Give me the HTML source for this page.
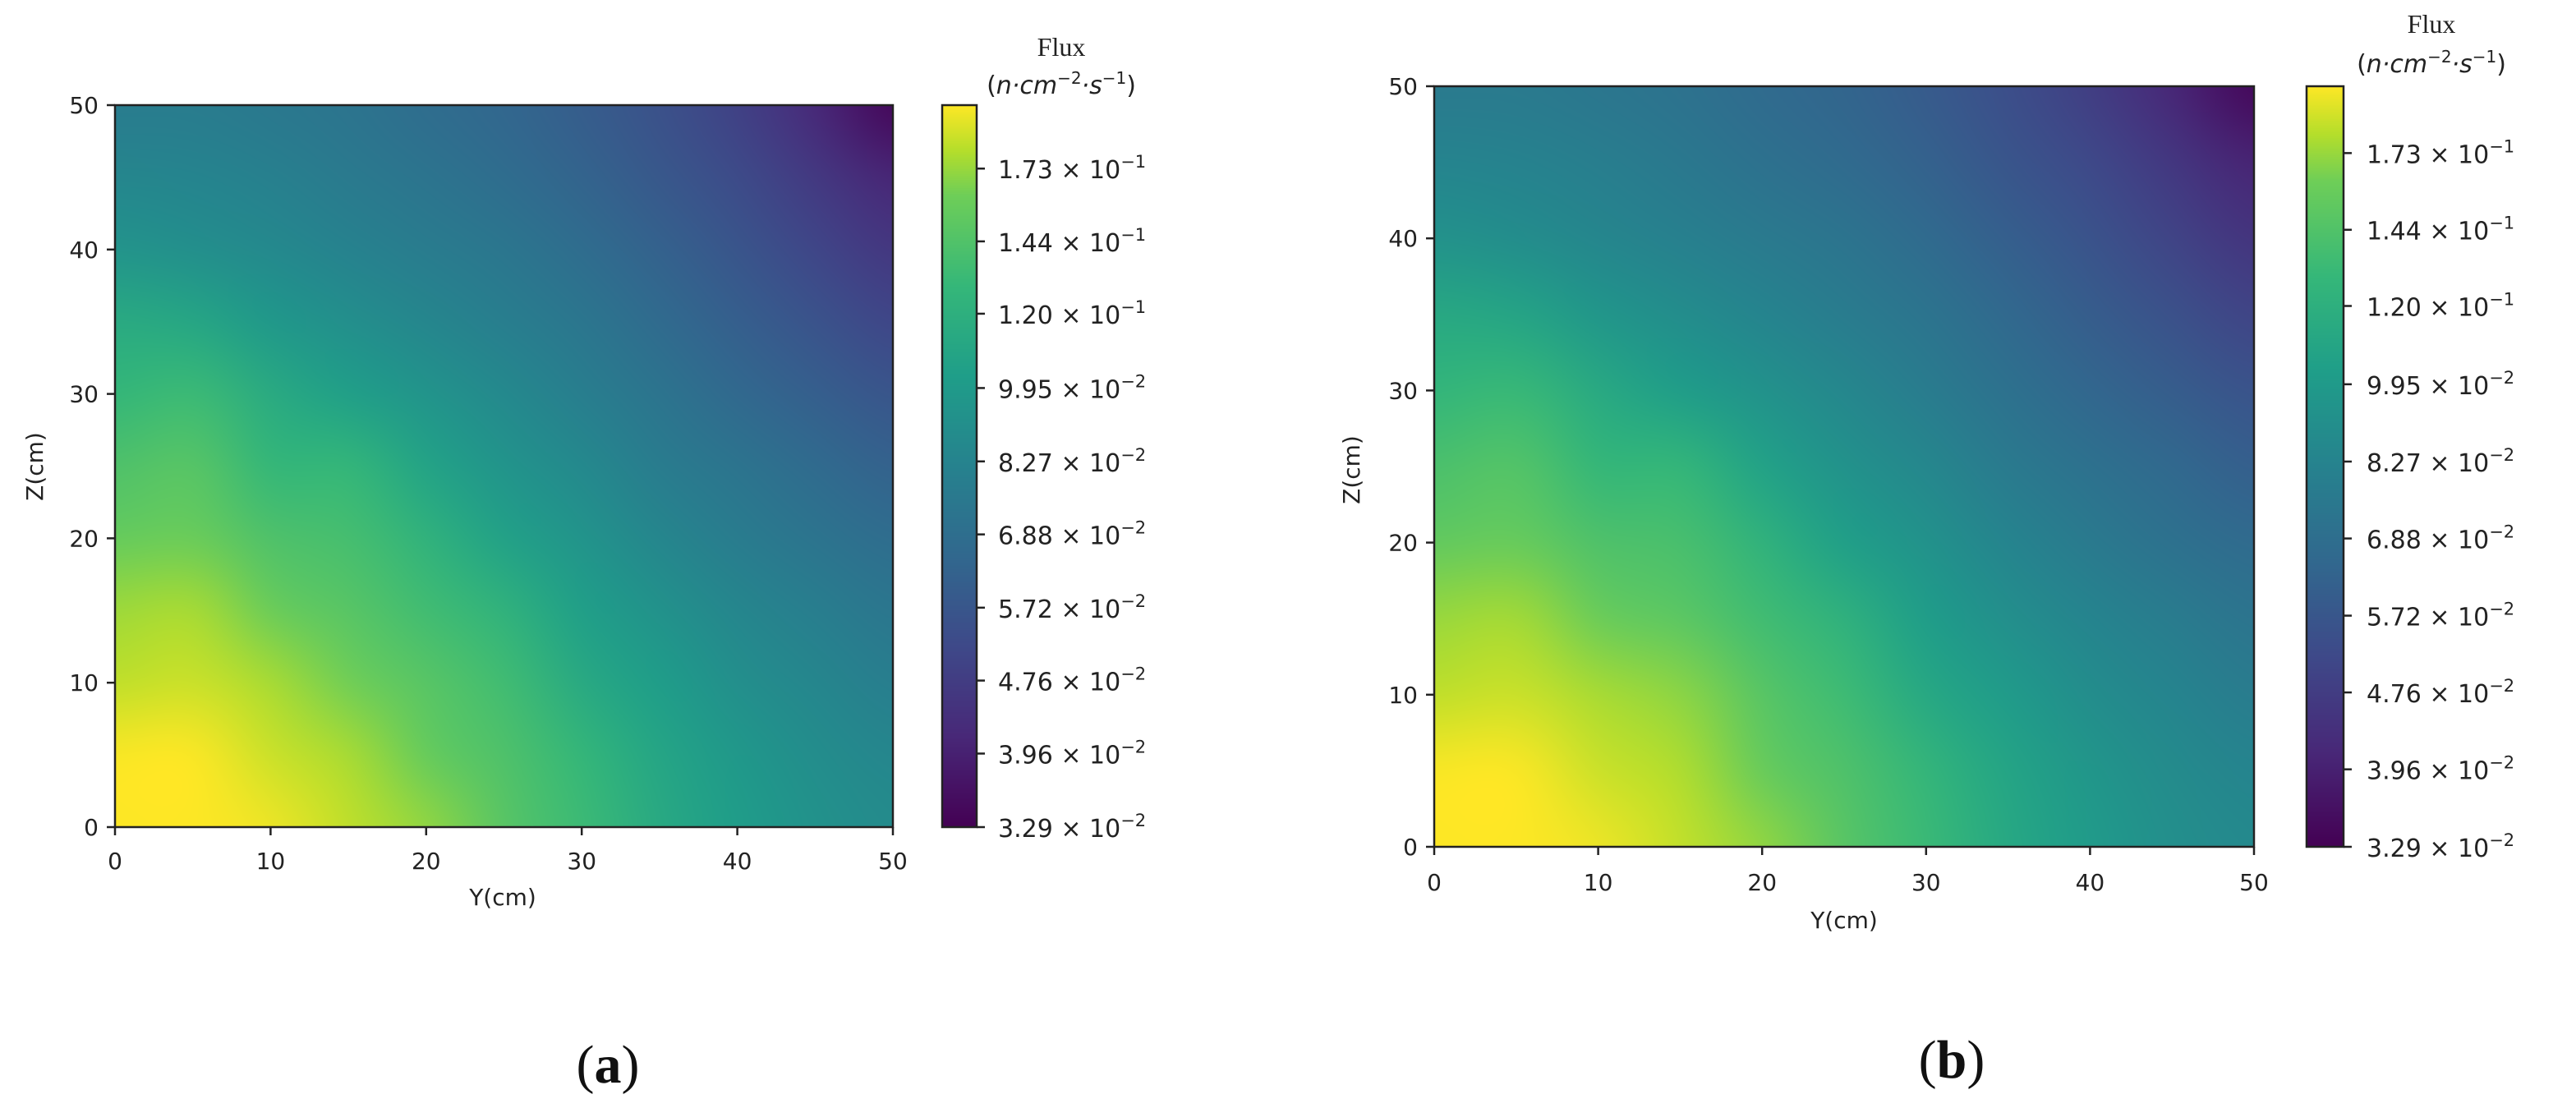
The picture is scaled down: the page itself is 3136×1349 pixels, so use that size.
<!DOCTYPE html>
<html><head><meta charset="utf-8"><style>
html,body{margin:0;padding:0;background:#fff;}
#root{position:relative;width:3136px;height:1349px;overflow:hidden;background:#fff;}
canvas{position:absolute;}
svg{position:absolute;left:0;top:0;}
</style></head><body>
<div id="root">
<canvas id="hmA"></canvas>
<canvas id="cbA"></canvas>
<canvas id="hmB"></canvas>
<canvas id="cbB"></canvas>
<svg id="ov" width="3136" height="1349"></svg>
</div>
<script>
const yTicks=[0,10,20,30,40,50];
const zTicks=[0,10,20,30,40,50];
const cbTicks=[0.173,0.144,0.120,0.0995,0.0827,0.0688,0.0572,0.0476,0.0396,0.0329];
const cbMant=["1.73","1.44","1.20","9.95","8.27","6.88","5.72","4.76","3.96","3.29"];
const cbExp=["−1","−1","−1","−2","−2","−2","−2","−2","−2","−2"];
const vMin=0.0329, vMax=0.203;
const gridY=[0,5,10,15,20,25,30,35,40,45,50];
const gridZ=[50,45,40,35,30,25,20,15,10,5,0];
// rows: Z=50 .. Z=0, cols: Y=0..50
const fluxA=[
[.0774,.0774,.0746,.0720,.0681,.0645,.0600,.0548,.0491,.0417,.0341],
[.0847,.0832,.0802,.0760,.0720,.0681,.0634,.0578,.0528,.0465,.0409],
[.0945,.0911,.0863,.0817,.0774,.0733,.0681,.0622,.0568,.0509,.0457],
[.1148,.1107,.0979,.0911,.0847,.0788,.0733,.0669,.0611,.0558,.0509],
[.1280,.1327,.1148,.1036,.0945,.0863,.0788,.0720,.0657,.0611,.0568],
[.1428,.1480,.1280,.1280,.1073,.0945,.0863,.0774,.0720,.0669,.0622],
[.1563,.1592,.1428,.1377,.1235,.1054,.0945,.0847,.0774,.0720,.0681],
[.1745,.1777,.1592,.1480,.1352,.1235,.1036,.0928,.0847,.0788,.0733],
[.1843,.1877,.1777,.1621,.1480,.1352,.1133,.1016,.0911,.0847,.0788],
[.2020,.2057,.1877,.1777,.1563,.1428,.1280,.1093,.0979,.0895,.0847],
[.2130,.2170,.1983,.1843,.1713,.1480,.1327,.1133,.1016,.0928,.0878]];
const fluxB=[
[.0760,.0760,.0733,.0710,.0670,.0635,.0590,.0538,.0480,.0410,.0341],
[.0832,.0817,.0788,.0746,.0707,.0670,.0622,.0568,.0518,.0458,.0403],
[.0928,.0895,.0847,.0802,.0760,.0720,.0669,.0611,.0558,.0500,.0450],
[.1127,.1088,.0962,.0895,.0832,.0774,.0720,.0657,.0600,.0548,.0500],
[.1260,.1302,.1134,.1020,.0930,.0850,.0774,.0707,.0645,.0600,.0558],
[.1407,.1460,.1280,.1280,.1060,.0930,.0850,.0760,.0707,.0657,.0611],
[.1544,.1575,.1428,.1397,.1235,.1040,.0930,.0832,.0760,.0707,.0670],
[.1733,.1766,.1592,.1502,.1352,.1218,.1020,.0911,.0832,.0774,.0720],
[.1843,.1877,.1777,.1700,.1480,.1334,.1120,.1000,.0895,.0832,.0774],
[.2020,.2057,.1877,.1799,.1575,.1428,.1270,.1080,.0962,.0878,.0832],
[.2130,.2170,.1983,.1853,.1713,.1480,.1313,.1120,.1000,.0911,.0863]];

const vir=[[0,[68,1,84]],[.125,[72,40,120]],[.25,[62,73,137]],[.375,[49,104,142]],[.5,[38,130,142]],[.625,[31,158,137]],[.75,[53,183,121]],[.875,[110,206,88]],[.9375,[181,222,43]],[1,[253,231,37]]];
function cmap(t){t=Math.max(0,Math.min(1,t));for(let i=1;i<vir.length;i++){if(t<=vir[i][0]){const a=vir[i-1],b=vir[i];const f=(t-a[0])/(b[0]-a[0]);return a[1].map((c,k)=>Math.round(c+(b[1][k]-c)*f));}}return vir[vir.length-1][1];}
function norm(v){return Math.log(v/vMin)/Math.log(vMax/vMin);}
const NS="http://www.w3.org/2000/svg";
const ov=document.getElementById('ov');
function el(tag,attrs,txt){const e=document.createElementNS(NS,tag);for(const k in attrs)e.setAttribute(k,attrs[k]);if(txt!==undefined)e.textContent=txt;ov.appendChild(e);return e;}

function panel(P,data,hmId,cbId,tag){
  const W=P.r-P.l,H=P.b-P.t;
  const xs=v=>P.l+(v-0)/50*W, zs=v=>P.b-(v-0)/50*H;
  const cs=v=>P.b-norm(v)*(P.b-P.t);
  const small=document.createElement('canvas');small.width=gridY.length;small.height=gridZ.length;
  const sc=small.getContext('2d');const img=sc.createImageData(small.width,small.height);
  data.forEach((row,j)=>row.forEach((v,i)=>{const c=cmap(norm(v));const o=(j*small.width+i)*4;img.data[o]=c[0];img.data[o+1]=c[1];img.data[o+2]=c[2];img.data[o+3]=255;}));
  sc.putImageData(img,0,0);
  const hm=document.getElementById(hmId);hm.width=W;hm.height=H;hm.style.left=P.l+'px';hm.style.top=P.t+'px';
  const hc=hm.getContext('2d');hc.imageSmoothingEnabled=true;hc.imageSmoothingQuality='high';
  const cw=W/(gridY.length-1),ch=H/(gridZ.length-1);
  hc.drawImage(small,-cw/2,-ch/2,W+cw,H+ch);
  const cb=document.getElementById(cbId);const cbw=P.cr-P.cl;cb.width=cbw;cb.height=H;cb.style.left=P.cl+'px';cb.style.top=P.t+'px';
  const cc=cb.getContext('2d');
  for(let y=0;y<H;y++){const c=cmap(1-y/(H-1));cc.fillStyle=`rgb(${c[0]},${c[1]},${c[2]})`;cc.fillRect(0,y,cbw,1);}
  let e;
  e=el('rect',{x:P.l,y:P.t,width:W,height:H,fill:'none',stroke:'#222','stroke-width':2.5});
  
  e=el('rect',{x:P.cl,y:P.t,width:cbw,height:H,fill:'none',stroke:'#222','stroke-width':2.5});
  
  yTicks.forEach(v=>{const x=xs(v);
    e=el('line',{x1:x,x2:x,y1:P.b,y2:P.b+10,stroke:'#222','stroke-width':2.5});
    e=el('text',{x:x,y:P.xt,'text-anchor':'middle','font-family':'DejaVu Sans, sans-serif','font-size':28,fill:'#222'},String(v));});
  zTicks.forEach(v=>{const y=zs(v);
    e=el('line',{x1:P.l-10,x2:P.l,y1:y,y2:y,stroke:'#222','stroke-width':2.5});
    e=el('text',{x:P.l-20,y:y+10,'text-anchor':'end','font-family':'DejaVu Sans, sans-serif','font-size':28,fill:'#222'},String(v));});
  cbTicks.forEach((v,i)=>{const y=cs(v);
    e=el('line',{x1:P.cr,x2:P.cr+10,y1:y,y2:y,stroke:'#222','stroke-width':2.5});
    const t=el('text',{x:P.cx,y:y+12,'font-family':'DejaVu Sans, sans-serif','font-size':30,fill:'#222'});
    
    const a=document.createElementNS(NS,'tspan');a.textContent=cbMant[i]+' × 10';t.appendChild(a);
    const s=document.createElementNS(NS,'tspan');s.setAttribute('dy','-13');s.setAttribute('font-size','21');s.textContent=cbExp[i];t.appendChild(s);});
  e=el('text',{x:P.xl,y:P.xlb,'text-anchor':'middle','font-family':'DejaVu Sans, sans-serif','font-size':28,fill:'#222'},'Y(cm)');
  e=el('text',{x:0,y:0,transform:`translate(${P.yl},${P.ylc}) rotate(-90)`,'text-anchor':'middle','font-family':'DejaVu Sans, sans-serif','font-size':28,fill:'#222'},'Z(cm)');
  e=el('text',{x:P.fx,y:P.fy,'text-anchor':'middle','font-family':'Liberation Serif, serif','font-size':32,fill:'#222'},'Flux');
  const u=el('text',{x:P.fx,y:P.uy,'text-anchor':'middle','font-family':'DejaVu Sans, sans-serif','font-size':30,fill:'#222'});
  
  [['(',0,null,0],['n·cm',0,'italic',0],['−2',-12,null,20],['·s',12,'italic',0],['−1',-12,null,20],[')',12,null,0]].forEach(p=>{const ts=document.createElementNS(NS,'tspan');ts.textContent=p[0];if(p[1])ts.setAttribute('dy',p[1]);if(p[2])ts.setAttribute('font-style',p[2]);if(p[3])ts.setAttribute('font-size',p[3]);u.appendChild(ts);});
  const cap=el('text',{x:P.capx,y:P.capy,'text-anchor':'middle','font-family':'Liberation Serif, serif','font-size':66,fill:'#111'});
  
  const c1=document.createElementNS(NS,'tspan');c1.textContent='(';cap.appendChild(c1);
  const c2=document.createElementNS(NS,'tspan');c2.setAttribute('font-weight','bold');c2.textContent=tag;cap.appendChild(c2);
  const c3=document.createElementNS(NS,'tspan');c3.textContent=')';cap.appendChild(c3);
}
panel({l:140,r:1087,t:128,b:1007,cl:1147,cr:1189,cx:1215,xt:1058,xl:612,xlb:1102,yl:52,ylc:568,fx:1292,fy:68,uy:114,capx:740,capy:1318},fluxA,'hmA','cbA','a');
panel({l:1746,r:2744,t:105,b:1031,cl:2808,cr:2853,cx:2881,xt:1084,xl:2245,xlb:1130,yl:1655,ylc:572,fx:2960,fy:40,uy:88,capx:2376,capy:1312},fluxB,'hmB','cbB','b');
</script>
</body></html>
